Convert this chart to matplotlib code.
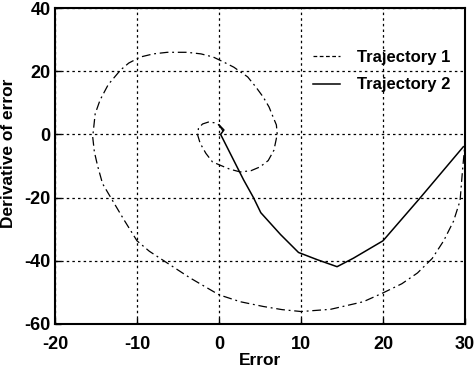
import numpy as np
import matplotlib
matplotlib.use("Agg")
import matplotlib.pyplot as plt

plt.rcParams["font.family"] = ["Liberation Sans", "DejaVu Sans"]
plt.rcParams["axes.unicode_minus"] = False

# trajectory 1 (spiral)
t1_e = [0.5, 0, -0.6, -1.3, -2.0, -2.5, -2.6, -2.3, -1.6, -0.8, 0, 1.3, 2.6, 3.9, 5, 6.0,
        6.7, 7.1, 7.0, 6.6, 6.1, 5.4, 4.5, 3.5, 1.8, 0.5,
        -0.7, -2.2, -3.9, -6.3, -8.0, -9.6, -11.0, -12, -13.5, -14.5, -15.1, -15.4, -15.2,
        -14.8, -14.2, -13.2, -11.6, -10, -8.5, -6.8, -3.5, 0, 2.6, 5.4, 7.7, 10, 13.6,
        17.6, 20, 22.3, 24.2, 26.0, 27.4, 28.6, 29.4, 29.7, 30]
t1_de = [1, 3, 3.7, 3.9, 3.3, 2.0, -0.2, -2.8, -6.0, -8.7, -9.6, -11.0, -11.9, -11.5, -10.3, -8.3,
         -5.0, 0, 3.0, 5.5, 8.7, 11.8, 15.0, 18.2, 21.3, 23.0,
         24.5, 25.5, 26, 26, 25.5, 24.5, 22.6, 20.4, 15.8, 10.9, 6.5, -0.8, -5.5,
         -10, -15.6, -20, -27, -33.7, -37.0, -39.9, -45.5, -50.8, -53, -54.5, -55.5, -56.1, -55.4,
         -53, -50.2, -47.3, -43.9, -39.3, -33.7, -27.5, -21, -11.3, -2.8]

# trajectory 2
t2_e = [0, 0.6, 0.2, 3, 4.2, 5.1, 7.5, 9.7, 12, 14.4, 16.4, 20, 24.6, 29.8]
t2_de = [3, 1.4, 0, -14.4, -20, -24.8, -31.7, -37.4, -39.7, -41.9, -39.2, -33.7, -19.9, -3.9]

fig = plt.figure(figsize=(4.74, 3.68), dpi=100)
ax = fig.add_axes([0.116, 0.12, 0.865, 0.858])

ax.plot(t1_e, t1_de, color="black", lw=0.9, linestyle=(0, (7, 3, 1.5, 3)), label="Trajectory 1")
ax.plot(t2_e, t2_de, color="black", lw=1.1, linestyle="-", label="Trajectory 2")

ax.set_xlim(-20, 30)
ax.set_ylim(-60, 40)
ax.set_xticks([-20, -10, 0, 10, 20, 30])
ax.set_yticks([-60, -40, -20, 0, 20, 40])
ax.grid(True, color="black", linestyle=(0, (2, 2.5)), linewidth=0.9)
ax.tick_params(direction="in", labelsize=13, length=4, width=1)
ax.tick_params(axis="x", pad=9)
ax.tick_params(axis="y", pad=3)
for lab in ax.get_xticklabels() + ax.get_yticklabels():
    lab.set_fontweight("bold")
for s in ax.spines.values():
    s.set_linewidth(1.5)

ax.set_xlabel("Error", fontsize=12.5, labelpad=0, fontweight="bold")
ax.set_ylabel("Derivative of error", fontsize=12.5, labelpad=0, fontweight="bold")
ax.yaxis.set_label_coords(-0.095, 0.54)

leg = ax.legend(loc="upper right", bbox_to_anchor=(1.0, 0.915), frameon=False,
                handlelength=1.6, handletextpad=1.0, labelspacing=0.75,
                prop={"size": 12, "weight": "bold"})
leg.get_lines()[0].set_linestyle((0, (3, 2)))

fig.savefig("out.png", dpi=100)
